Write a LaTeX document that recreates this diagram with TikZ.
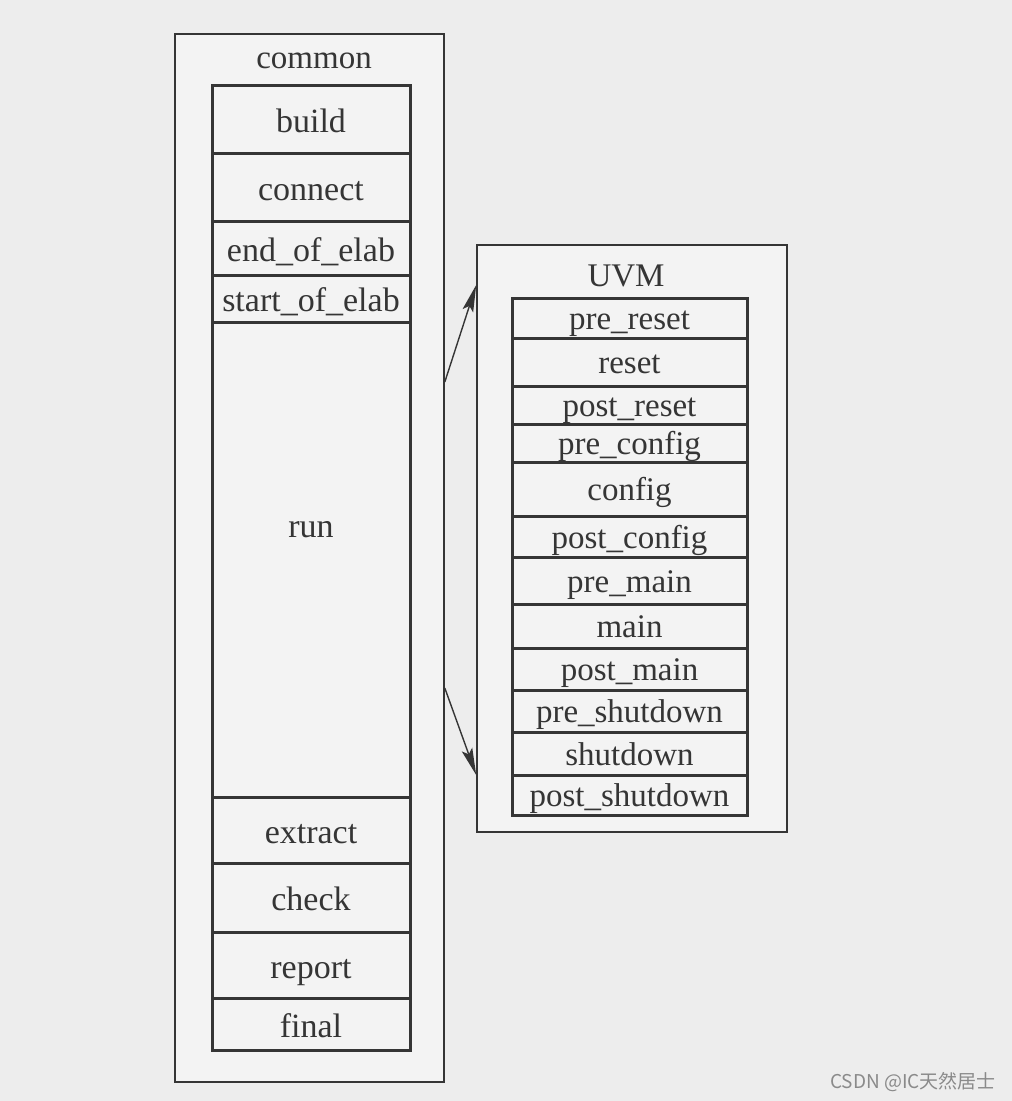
\documentclass[tikz,border=0pt]{standalone}
\usepackage{fontspec}
\setmainfont{Liberation Serif}
\newfontfamily\cjk{Noto Sans CJK SC}
\usetikzlibrary{arrows.meta}
\definecolor{ink}{HTML}{353535}
\definecolor{paper}{HTML}{EDEDED}
\definecolor{boxfill}{HTML}{F3F3F3}
\definecolor{wm}{HTML}{8A8A8A}
\begin{document}
\begin{tikzpicture}[x=1pt,y=-1pt,
  outerbox/.style={draw=ink, line width=1.6pt, fill=boxfill, inner sep=0pt},
  lrow/.style={draw=ink, line width=3pt, fill=boxfill, inner sep=0pt,
    minimum width=198pt, font=\fontsize{34}{34}\selectfont, text=ink,
    text height=30pt, text depth=4pt},
  urow/.style={draw=ink, line width=3pt, fill=boxfill, inner sep=0pt,
    minimum width=235pt, font=\fontsize{33}{33}\selectfont, text=ink,
    text height=27pt, text depth=4pt},
  title/.style={font=\fontsize{33}{33}\selectfont, text=ink, inner sep=0pt},
  link/.style={draw=ink, line width=1.4pt, -{Stealth[length=27pt,width=11pt,inset=5pt]}}
]
\fill[paper] (0,0) rectangle (1012,1101);
\useasboundingbox (0,0) rectangle (1012,1101);

% common outer box
\node[outerbox, minimum width=269pt, minimum height=1048pt] (commonbox) at (309.5,558) {};
\node[title] (commonlbl) at (314,61) {common};

% common phases
\node[lrow, minimum height=68pt]  (build)   at (311,119)   {build};
\node[lrow, minimum height=68pt]  (connect) at (311,187)   {connect};
\node[lrow, minimum height=54pt]  (eoe)     at (311,248)   {end\_of\_elab};
\node[lrow, minimum height=47pt]  (soe)     at (311,298.5) {start\_of\_elab};
\node[lrow, minimum height=475pt] (run)     at (311,559.5) {};
\node[lrow, draw=none, fill=none] (runlbl)  at (311,524)   {run};
\node[lrow, minimum height=66pt]  (extract) at (311,830)   {extract};
\node[lrow, minimum height=69pt]  (check)   at (311,897.5) {check};
\node[lrow, minimum height=66pt]  (report)  at (311,965)   {report};
\node[lrow, minimum height=52pt]  (final)   at (311,1024)  {final};

% UVM outer box
\node[outerbox, minimum width=310pt, minimum height=587pt] (uvmbox) at (632,538.5) {};
\node[title] (uvmlbl) at (626,276) {UVM};

% UVM phases
\node[urow, minimum height=40pt] (prereset)    at (629.5,318)   {pre\_reset};
\node[urow, minimum height=48pt] (reset)       at (629.5,362)   {reset};
\node[urow, minimum height=38pt] (postreset)   at (629.5,405)   {post\_reset};
\node[urow, minimum height=38pt] (preconfig)   at (629.5,443)   {pre\_config};
\node[urow, minimum height=54pt] (config)      at (629.5,489)   {config};
\node[urow, minimum height=41pt] (postconfig)  at (629.5,536.5) {post\_config};
\node[urow, minimum height=47pt] (premain)     at (629.5,580.5) {pre\_main};
\node[urow, minimum height=44pt] (main)        at (629.5,626)   {main};
\node[urow, minimum height=42pt] (postmain)    at (629.5,669)   {post\_main};
\node[urow, minimum height=42pt] (preshut)     at (629.5,711)   {pre\_shutdown};
\node[urow, minimum height=43pt] (shut)        at (629.5,753.5) {shutdown};
\node[urow, minimum height=40pt] (postshut)    at (629.5,795)   {post\_shutdown};

% connectors
\coordinate (a1s) at (commonbox.east |- 0,382);
\coordinate (a1e) at (uvmbox.west |- 0,285);
\coordinate (a2s) at (commonbox.east |- 0,688);
\coordinate (a2e) at (uvmbox.west |- 0,775);
\draw[link] (a1s) -- (a1e);
\draw[link] (a2s) -- (a2e);

% watermark
\node[font=\cjk\fontsize{19}{19}\selectfont, text=wm, inner sep=0pt] (wmk) at (913,1082) {CSDN @IC天然居士};
\end{tikzpicture}
\end{document}
